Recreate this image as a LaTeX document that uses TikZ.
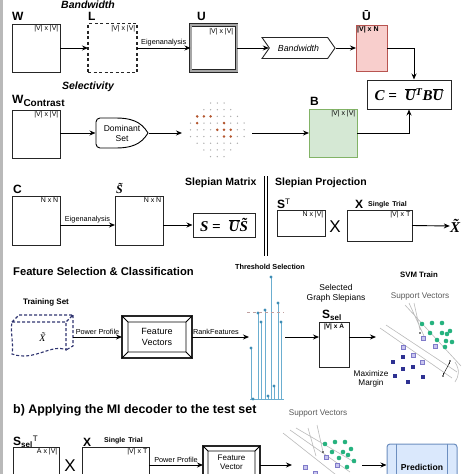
\documentclass[tikz,border=0pt]{standalone}
\usepackage{fontspec}
\setmainfont{Liberation Sans}
\newfontfamily\serifb{Liberation Serif}
\usetikzlibrary{arrows.meta,shapes.symbols,calc}
\definecolor{pinkf}{HTML}{F8CECC}
\definecolor{pinkd}{HTML}{B85450}
\definecolor{greenf}{HTML}{D5E8D4}
\definecolor{greend}{HTML}{82B366}
\definecolor{bluef}{HTML}{DAE8FC}
\definecolor{blued}{HTML}{6C8EBF}
\definecolor{navy}{HTML}{2E3192}
\definecolor{dashnavy}{HTML}{2F3470}
\definecolor{svgreen}{HTML}{26B27F}
\definecolor{lav}{HTML}{C8C5EE}
\definecolor{lavd}{HTML}{7F7AC9}
\definecolor{stem}{HTML}{6BAED0}
\definecolor{stemd}{HTML}{3F8DB5}
\definecolor{brownd}{HTML}{B4552D}
\definecolor{thr}{HTML}{C0A0A0}
\newcommand{\ob}[1]{$\overline{\mbox{#1}}$}
\newcommand{\fml}{\serifb\bfseries\itshape}
\begin{document}
\begin{tikzpicture}[x=1pt,y=-1pt,
 box/.style={draw=black!85,line width=0.9pt,inner sep=0pt,outer sep=0pt},
 sz/.style={font=\fontsize{7}{8}\selectfont,anchor=north east,inner sep=1.5pt},
 lab/.style={font=\fontsize{12}{14}\selectfont\bfseries,inner sep=0pt,anchor=south west},
 arr/.style={-{Stealth[length=6pt,width=5pt]},line width=0.9pt},
 elab/.style={font=\fontsize{7.3}{8}\selectfont,inner sep=1.5pt,anchor=south},
 ttl/.style={font=\fontsize{10.5}{12}\selectfont\bfseries,inner sep=0pt},
 itl/.style={font=\fontsize{10.5}{12}\selectfont\bfseries\itshape,inner sep=0pt},
 small/.style={font=\fontsize{8.2}{9.5}\selectfont,inner sep=0pt,align=center},
 nsq/.style={fill=navy,draw=none,minimum size=4.5pt,inner sep=0pt},
 lsq/.style={fill=lav,draw=lavd,line width=0.4pt,minimum size=4.5pt,inner sep=0pt},
 svl/.style={draw=gray!55,line width=0.6pt},
 ghost/.style={inner sep=0pt,outer sep=0pt}
]
\useasboundingbox (0,0) rectangle (474,474);
\fill[gray!55] (0,0) rectangle (2.5,474);

% ---------- Row 1
\node[itl] (tbw) at (88,4.5) {Bandwidth};
\node[lab] (Wl) at (12,21) {W};
\node[box,minimum width=48,minimum height=48] (W) at (36,48) {};
\node[sz] (Wsz) at (W.north east) {|V| x |V|};
\node[lab] (Ll) at (88,21) {L};
\node[box,line width=1.2pt,dash pattern=on 3pt off 2.5pt,minimum width=49,minimum height=49] (L) at (112.5,48) {};
\node[sz] (Lsz) at (L.north east) {|V| x |V|};
\node[lab] (Ul) at (197,21) {U};
\node[box,line width=0.8pt,double=gray!70,double distance=2pt,minimum width=46,minimum height=46] (U) at (213.5,48) {};
\node[sz,inner sep=3pt] (Usz) at (U.north east) {|V| x |V|};
\draw[arr] (W) -- (L);
\draw[arr] (L) -- node[elab] {Eigenanalysis} (U);
\node[draw=black!85,line width=0.9pt,shape=signal,signal to=east,signal from=west,signal pointer angle=110,minimum width=73,minimum height=21,inner sep=0pt,font=\fontsize{8.8}{10}\selectfont\itshape] (bw) at (298.5,48) {Bandwidth};
\draw[arr] (U) -- (bw.west);
\node[lab] (Ubl) at (362,21) {\=U};
\node[box,draw=pinkd,fill=pinkf,line width=0.8pt,minimum width=31,minimum height=46] (Ub) at (371.5,48) {};
\node[sz,anchor=north west,font=\fontsize{7}{8}\selectfont\bfseries,inner sep=1pt] (Ubsz) at (Ub.north west) {|V| x N};
\draw[arr] (bw.east) -- (Ub);
\node[draw=black!85,line width=1pt,minimum width=84,minimum height=29,inner sep=0pt,font=\fml\fontsize{15}{16}\selectfont] (Cf) at (409,94.5) {C =\; \ob{U}\textsuperscript{T}B\ob{U}};
\draw[arr] (Ub.east) -| ([xshift=5pt]Cf.north);

% ---------- Row 2
\node[itl] (tsel) at (88,87) {Selectivity};
\node[lab] (Wcl) at (12,107) {W\raisebox{-3pt}{\fontsize{10}{11}\selectfont Contrast}};
\node[box,minimum width=48,minimum height=48] (Wc) at (36,134) {};
\node[sz] (Wcsz) at (Wc.north east) {|V| x |V|};
\node[ghost,minimum width=53,minimum height=30,font=\fontsize{8.5}{10}\selectfont,align=center] (ds) at (122,133) {Dominant\\Set};
\draw[line width=0.9pt,rounded corners=4pt] (148,133) .. controls (141,121) and (130,118) .. (112,118) -- (96,118) -- (96,148) -- (112,148) .. controls (130,148) and (141,145) .. (148,133);
\draw[arr] (Wc.east |- ds.west) -- (ds.west);
\node[ghost,minimum width=70,minimum height=60] (grid) at (217,133) {};
\draw[arr] (ds.east) -- (grid.west);
\foreach \i in {0,...,8}{\foreach \j in {0,...,8}{
  \pgfmathtruncatemacro{\ok}{(\i-4)*(\i-4)+(\j-4)*(\j-4)<=17 ? 1 : 0}
  \ifnum\ok=1 \fill[gray!65] ({190.5+6.7*\i},{103+6.7*\j}) circle (0.75);\fi
}}
\foreach \i/\j in {1/2,2/2,3/2,1/3,5/3,4/4,5/4,6/4,5/5,6/5}{
  \fill[brownd] ({190.5+6.7*\i},{103+6.7*\j}) circle (1.4);}
\node[lab] (Bl) at (310,106) {B};
\node[box,draw=greend,fill=greenf,line width=0.8pt,minimum width=48,minimum height=48] (B) at (333,133) {};
\node[sz] (Bsz) at (B.north east) {|V| x |V|};
\draw[arr] (grid.east) -- (B);
\draw[arr] (B.east) -| (Cf.south);

% ---------- Row 3
\node[lab] (Cl) at (13,194) {C};
\node[box,minimum width=48,minimum height=49] (C) at (36,220.5) {};
\node[sz] (Csz) at (C.north east) {N x N};
\node[lab,font=\fml\fontsize{12}{14}\selectfont] (Stl) at (116,194) {\~{S}};
\node[box,minimum width=48,minimum height=49] (St) at (139,220.5) {};
\node[sz] (Stsz) at (St.north east) {N x N};
\draw[arr] ([yshift=-4.5pt]C.east) -- node[elab] {Eigenanalysis} ([yshift=-4.5pt]St.west);
\node[draw=black!85,line width=1pt,minimum width=62,minimum height=24,inner sep=0pt,font=\fml\fontsize{15}{16}\selectfont] (Sf) at (224,225) {S =\; \ob{U}\~{S}};
\draw[arr] ([yshift=-4.5pt]St.east) -- (Sf.west);
\node[ttl,anchor=west] (tsm) at (185,183) {Slepian Matrix};
\draw[line width=0.9pt] (264.5,176) -- (264.5,256) (267.8,176) -- (267.8,256);
\node[ttl,anchor=west] (tsp) at (275,183) {Slepian Projection};
\node[lab] (STl) at (277,209) {S\textsuperscript{\mdseries T}};
\node[box,minimum width=48,minimum height=26] (ST) at (301,223) {};
\node[sz] (STsz) at (ST.north east) {N x |V|};
\node[font=\fontsize{17}{18}\selectfont,inner sep=0pt] (tm1) at (335,227) {X};
\node[lab] (Xl) at (355,209) {X};
\node[font=\fontsize{7}{8}\selectfont\bfseries,inner sep=0pt,anchor=west] (Xst) at (368,205) {Single\, Trial};
\node[box,minimum width=65,minimum height=31] (X) at (379.5,225.5) {};
\node[sz] (Xsz) at (X.north east) {|V| x T};
\node[inner sep=0pt,font=\fml\fontsize{15}{16}\selectfont] (Xt) at (455,226) {\~{X}};
\draw[arr] (X.east) -- (Xt.west);

% ---------- Row 4
\node[ttl,anchor=west,font=\fontsize{11.2}{13}\selectfont\bfseries] (tfs) at (13,271) {Feature Selection \& Classification};
\node[small,font=\fontsize{7.3}{8.5}\selectfont\bfseries] (tth) at (270,267) {Threshold Selection};
\node[small,font=\fontsize{8}{9}\selectfont\bfseries] (ttr) at (46,302) {Training Set};
\node[ghost,minimum width=61,minimum height=42,font=\serifb\itshape\fontsize{10}{11}\selectfont] (train) at (42.5,337) {\~{X}};
\draw[dashnavy,line width=1.1pt,dash pattern=on 3pt off 2pt]
  (12,322) -- (66,322) -- (66,350) .. controls (52,343) and (34,362) .. (12,354) .. controls (14,344) and (10,332) .. (12,322)
  (12,322) -- (19,315) -- (73,315) -- (66,322)
  (73,315) -- (73,346) -- (66,350);
\node[box,line width=1.2pt,minimum width=70,minimum height=42] (fv) at (157,337) {};
\draw[line width=0.8pt] ($(fv.north west)+(6,6)$) rectangle ($(fv.south east)+(-6,-6)$)
  (fv.north west) -- ++(6,6) (fv.north east) -- ++(-6,6) (fv.south west) -- ++(6,-6) (fv.south east) -- ++(-6,-6);
\node[small,font=\fontsize{9}{11}\selectfont] (fvt) at (fv.center) {Feature\\Vectors};
\draw[arr] (train.east) -- node[elab] {Power Profile} (fv.west);
\node[ghost,minimum width=36,minimum height=125] (chart) at (267,337) {};
\draw[arr] (fv.east) -- node[elab,pos=0.42] {RankFeatures} (chart.west);
\draw[stem,line width=0.9pt] (250,399) -- (284,399);
\foreach \x/\t in {251/348,258/313,261/322,265/310,271/277,278/303,281/322,268/396,274/386}{
  \draw[stem,line width=0.9pt] (\x,399) -- (\x,\t);
  \fill[stemd] (\x,\t) circle (1.6);}
\fill[stemd] (253,399) circle (1.6);
\draw[thr,dashed,line width=0.7pt] (247,312) -- (284,312);
\node[small,font=\fontsize{8.5}{10}\selectfont] (tgs) at (336,293) {Selected\\Graph Slepians};
\node[lab] (Ssl) at (322,321) {S\textsubscript{sel}};
\node[box,minimum width=30,minimum height=45] (Ssel) at (334,344.5) {};
\node[sz,anchor=north,font=\fontsize{6.5}{7}\selectfont\bfseries] (Sselsz) at (Ssel.north) {|V| x A};
\draw[arr] (chart.east) -- (chart.east -| Ssel.west);
\node[ghost,minimum width=84,minimum height=80] (svm) at (418,337) {};
\draw[arr] (Ssel.east |- svm.west) -- (svm.west);
\node[small,font=\fontsize{7.8}{9}\selectfont\bfseries] (tsvm) at (419,275) {SVM Train};
\node[small,text=black!65] (tsv1) at (420,296) {Support Vectors};
\draw[svl] (380,328) -- (452,378) (386,325) -- (457,372) (405,305) -- (461,366) (409,303) -- (424,336) (414,303) -- (420,330);
\draw[svl] (455,362) .. controls (460,370) and (459,376) .. (455,382);
\draw[line width=0.4pt,<->,>={Stealth[length=2pt]}] (450,362) -- (443,375);
\foreach \p in {(420,333),(450,361),(443,376)} \fill \p circle (0.9);
\foreach \p in {(422,324),(432,323),(442,323),(430,333),(442,333),(447,334),(450,331),(437,340),(446,341),(452,342),(445,347)} \fill[svgreen] \p circle (2.3);
\foreach \p in {(393,362),(403,357),(403,369),(413,367),(395,376),(408,382),(423,377)} \node[nsq] at \p {};
\foreach \p in {(423,338),(435,346),(403,347),(413,355),(422,362)} \node[lsq] at \p {};
\node[small] (tmm) at (371,379) {Maximize\\Margin};

% ---------- Row 5
\node[ttl,anchor=west,font=\fontsize{12.4}{14}\selectfont\bfseries] (tb) at (13,410) {b) Applying the MI decoder to the test set};
\node[lab] (SsTl) at (13,448) {S\textsubscript{sel}\textsuperscript{\mdseries T}};
\node[box,minimum width=46,minimum height=34] (SsT) at (36,464) {};
\node[sz] (SsTsz) at (SsT.north east) {A x |V|};
\node[font=\fontsize{17}{18}\selectfont,inner sep=0pt] (tm2) at (70,466) {X};
\node[lab] (X2l) at (83,447) {X};
\node[font=\fontsize{7}{8}\selectfont\bfseries,inner sep=0pt,anchor=west] (X2st) at (104,441) {Single\, Trial};
\node[box,minimum width=67,minimum height=34] (X2) at (115.5,464) {};
\node[sz] (X2sz) at (X2.north east) {|V| x T};
\node[box,line width=1.2pt,minimum width=57,minimum height=38] (fv2) at (231.5,465) {};
\draw[line width=0.8pt] ($(fv2.north west)+(5,5)$) rectangle ($(fv2.south east)+(-5,-5)$)
  (fv2.north west) -- ++(5,5) (fv2.north east) -- ++(-5,5) (fv2.south west) -- ++(5,-5) (fv2.south east) -- ++(-5,-5);
\node[small,font=\fontsize{8}{9}\selectfont] (fv2t) at (231.5,462) {Feature\\Vector};
\draw[arr] (X2.east |- fv2.west) -- node[elab] {Power Profile} (fv2.west);
\node[ghost,minimum width=70,minimum height=50] (svm2) at (327,465) {};
\draw[arr] (fv2.east) -- (svm2.west);
\node[small,text=black!65] (tsv2) at (318,413) {Support Vectors};
\draw[svl] (283,433) -- (340,478) (290,430) -- (350,472) (296,428) -- (356,463) (317,425) -- (323,452) (308,428) -- (316,456);
\fill (323,452) circle (0.9);
\foreach \p in {(325,444),(335,442),(345,442),(332,452),(343,452),(351,449),(348,455),(339,458),(354,461),(347,467)} \fill[svgreen] \p circle (2.3);
\foreach \p in {(326,457),(337,465),(305,467),(315,473)} \node[lsq] at \p {};
\node[draw=blued,fill=bluef,line width=1pt,rounded corners=3pt,minimum width=70,minimum height=46,inner sep=0pt,font=\fontsize{8.6}{10}\selectfont\bfseries] (pred) at (422,467) {Prediction};
\draw[blued,line width=1pt] ($(pred.north west)+(10,0)$) -- ($(pred.south west)+(10,0)$) ($(pred.north east)+(-10,0)$) -- ($(pred.south east)+(-10,0)$);
\draw[arr] (svm2.east) -- (svm2.east -| pred.west);
\end{tikzpicture}
\end{document}
